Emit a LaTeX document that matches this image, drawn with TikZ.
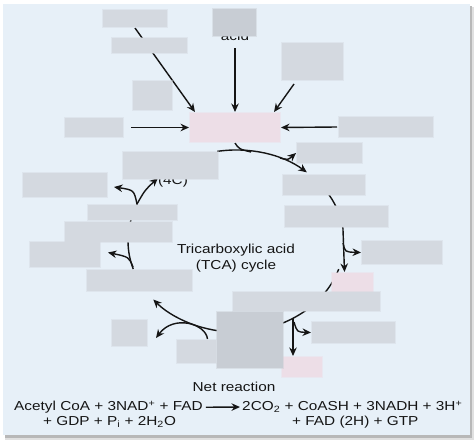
\documentclass[tikz,border=0pt]{standalone}
\usepackage{fontspec}
\setmainfont{Liberation Sans}
\usetikzlibrary{arrows.meta,fit}
\pgfdeclarelayer{panel}
\pgfdeclarelayer{lines}
\pgfsetlayers{panel,lines,main}
\definecolor{panelblue}{HTML}{E7F0F8}
\definecolor{blot}{HTML}{D4D9E0}
\definecolor{blotdark}{HTML}{C8CDD4}
\definecolor{blotpink}{HTML}{EDDEE7}
\definecolor{ink}{HTML}{151515}
\tikzset{
	mask/.style={rectangle, inner sep=0pt, fill=blot, draw=blot, draw opacity=.45, line width=2pt},
	arr/.style={draw=ink, line width=1.4pt, -{Stealth[length=8.5pt,width=7.5pt]}},
	line/.style={draw=ink, line width=1.4pt},
	txt/.style={inner sep=0pt, text=ink, xscale=1.18, font=\fontsize{13}{15.5}\selectfont},
	ring/.style={x radius=108, y radius=91}
}
\begin{document}
\begin{tikzpicture}[x=1pt, y=-1pt]
	\useasboundingbox (0,0) rectangle (474,442);
	\begin{pgfonlayer}{panel}
		\fill[white] (0,0) rectangle (474,442);
		\fill[black!12] (5,7) rectangle (474,440);
		\fill[black!28] (5,6) rectangle (472,437.5);
		\fill[panelblue] (3,4) rectangle (470,435);
	\end{pgfonlayer}
	\coordinate (c) at (236,241);
	\node[mask, fit={(103,10) (167,27)}] (t1) {};
	\node[mask, fit={(112,38) (187,53)}] (t2) {};
	\node[mask, fill=blotdark, draw=blotdark, fit={(213,9) (256,36)}] (t3) {};
	\node[mask, fit={(282,43) (343,80)}] (t4) {};
	\node[mask, fit={(133,81) (172,110)}] (t5) {};
	\node[mask, fit={(65,118) (123,137)}] (tl) {};
	\node[mask, fill=blotpink, draw=blotpink, fit={(190,113) (280,142)}] (cen) {};
	\node[mask, fit={(339,117) (433,137)}] (tr) {};
	\node[mask, fit={(297,143) (362,163)}] (r1) {};
	\node[mask, fit={(283,175) (365,195)}] (r2) {};
	\node[mask, fit={(285,206) (388,227)}] (r3) {};
	\node[mask, fit={(362,241) (442,264)}] (r4) {};
	\node[mask, fill=blotpink, draw=blotpink, fit={(332,273) (373,292)}] (r5) {};
	\node[mask, fit={(233,292) (380,311)}] (b1) {};
	\node[mask, fit={(312,322) (395,343)}] (b2) {};
	\node[mask, fill=blotpink, draw=blotpink, fit={(282,357) (322,377)}] (b3) {};
	\node[mask, fill=blotdark, draw=blotdark, fit={(217,312) (283,368)}] (b4) {};
	\node[mask, fit={(177,340) (216,363)}] (b5) {};
	\node[mask, fit={(112,320) (147,346)}] (b6) {};
	\node[mask, fit={(87,270) (192,291)}] (l1) {};
	\node[mask, fit={(30,242) (100,267)}] (l2) {};
	\node[mask, fit={(65,222) (172,242)}] (l3) {};
	\node[mask, fit={(88,205) (177,220)}] (l4) {};
	\node[mask, fit={(23,173) (107,197)}] (l5) {};
	\node[mask, fit={(123,152) (218,179)}] (l6) {};
	\begin{pgfonlayer}{lines}
		\node[txt, anchor=base] (acid) at (235,40) {acid};
		\node[txt] (fourc) at (173,181) {(4C)};
		\draw[arr] (t1.south) -- ([xshift=6]cen.north west);
		\draw[arr] ([yshift=-8]acid.south) -- (cen.north);
		\draw[arr] ([xshift=13,yshift=-3]t4.south west) -- ([xshift=-7]cen.north east);
		\draw[arr] ([xshift=7]tl.east) -- (cen.west);
		\draw[arr] ([xshift=-1]tr.west) -- (cen.east);
		\draw[line] (cen.south) .. controls (239,149) .. (251,152);
		\draw[arr] (c) ++(260:108 and 91) arc[start angle=260, end angle=311, ring];
		\draw[arr] (280,158) .. controls (288,160) .. (r1.west);
		\draw[arr] (c) ++(326:108 and 91) arc[start angle=326, end angle=352, ring] -- ([xshift=-8]r5.north);
		\draw[arr] (343,243) .. controls (345,252) .. (r4.west);
		\draw[arr] (c) ++(18:108 and 91) arc[start angle=18, end angle=140, ring];
		\draw[arr] (293,318) -- ([xshift=-9]b3.north);
		\draw[arr] (294,322) .. controls (297,332) .. (b2.west);
		\draw[arr] ([xshift=11]b5.north) .. controls (206,324) and (174,314) .. ([xshift=8,yshift=-5]b6.east);
		\draw[line] (c) ++(162:108 and 91) arc[start angle=162, end angle=204, ring];
		\draw[arr] (133,267) .. controls (129,257) .. ([xshift=7,yshift=2]l2.east);
		\draw[arr] (137,204) .. controls (134,190) .. ([xshift=6,yshift=-2]l5.east);
		\draw[arr] (137,204) .. controls (145,190) .. (158,178);
	\end{pgfonlayer}
	\node[txt, anchor=base] (tca1) at (236,253.5) {Tricarboxylic acid};
	\node[txt, anchor=base] (tca2) at (236,269) {(TCA) cycle};
	\node[txt, anchor=base] (net) at (234,391) {Net reaction};
	\node[txt, anchor=base west] (lhs) at (14,410.7) {Acetyl CoA + 3NAD\textsuperscript{+} + FAD};
	\node[txt, anchor=base west] (rhs) at (242,410.7) {2CO\textsubscript{2} + CoASH + 3NADH + 3H\textsuperscript{+}};
	\node[txt, anchor=base west] (lhs2) at (43,425) {+ GDP + P\textsubscript{i} + 2H\textsubscript{2}O};
	\node[txt, anchor=base west] (rhs2) at (292,425) {+ FAD (2H) + GTP};
	\draw[arr] ([xshift=3]lhs.east) -- ([xshift=-2]rhs.west);
\end{tikzpicture}
\end{document}
